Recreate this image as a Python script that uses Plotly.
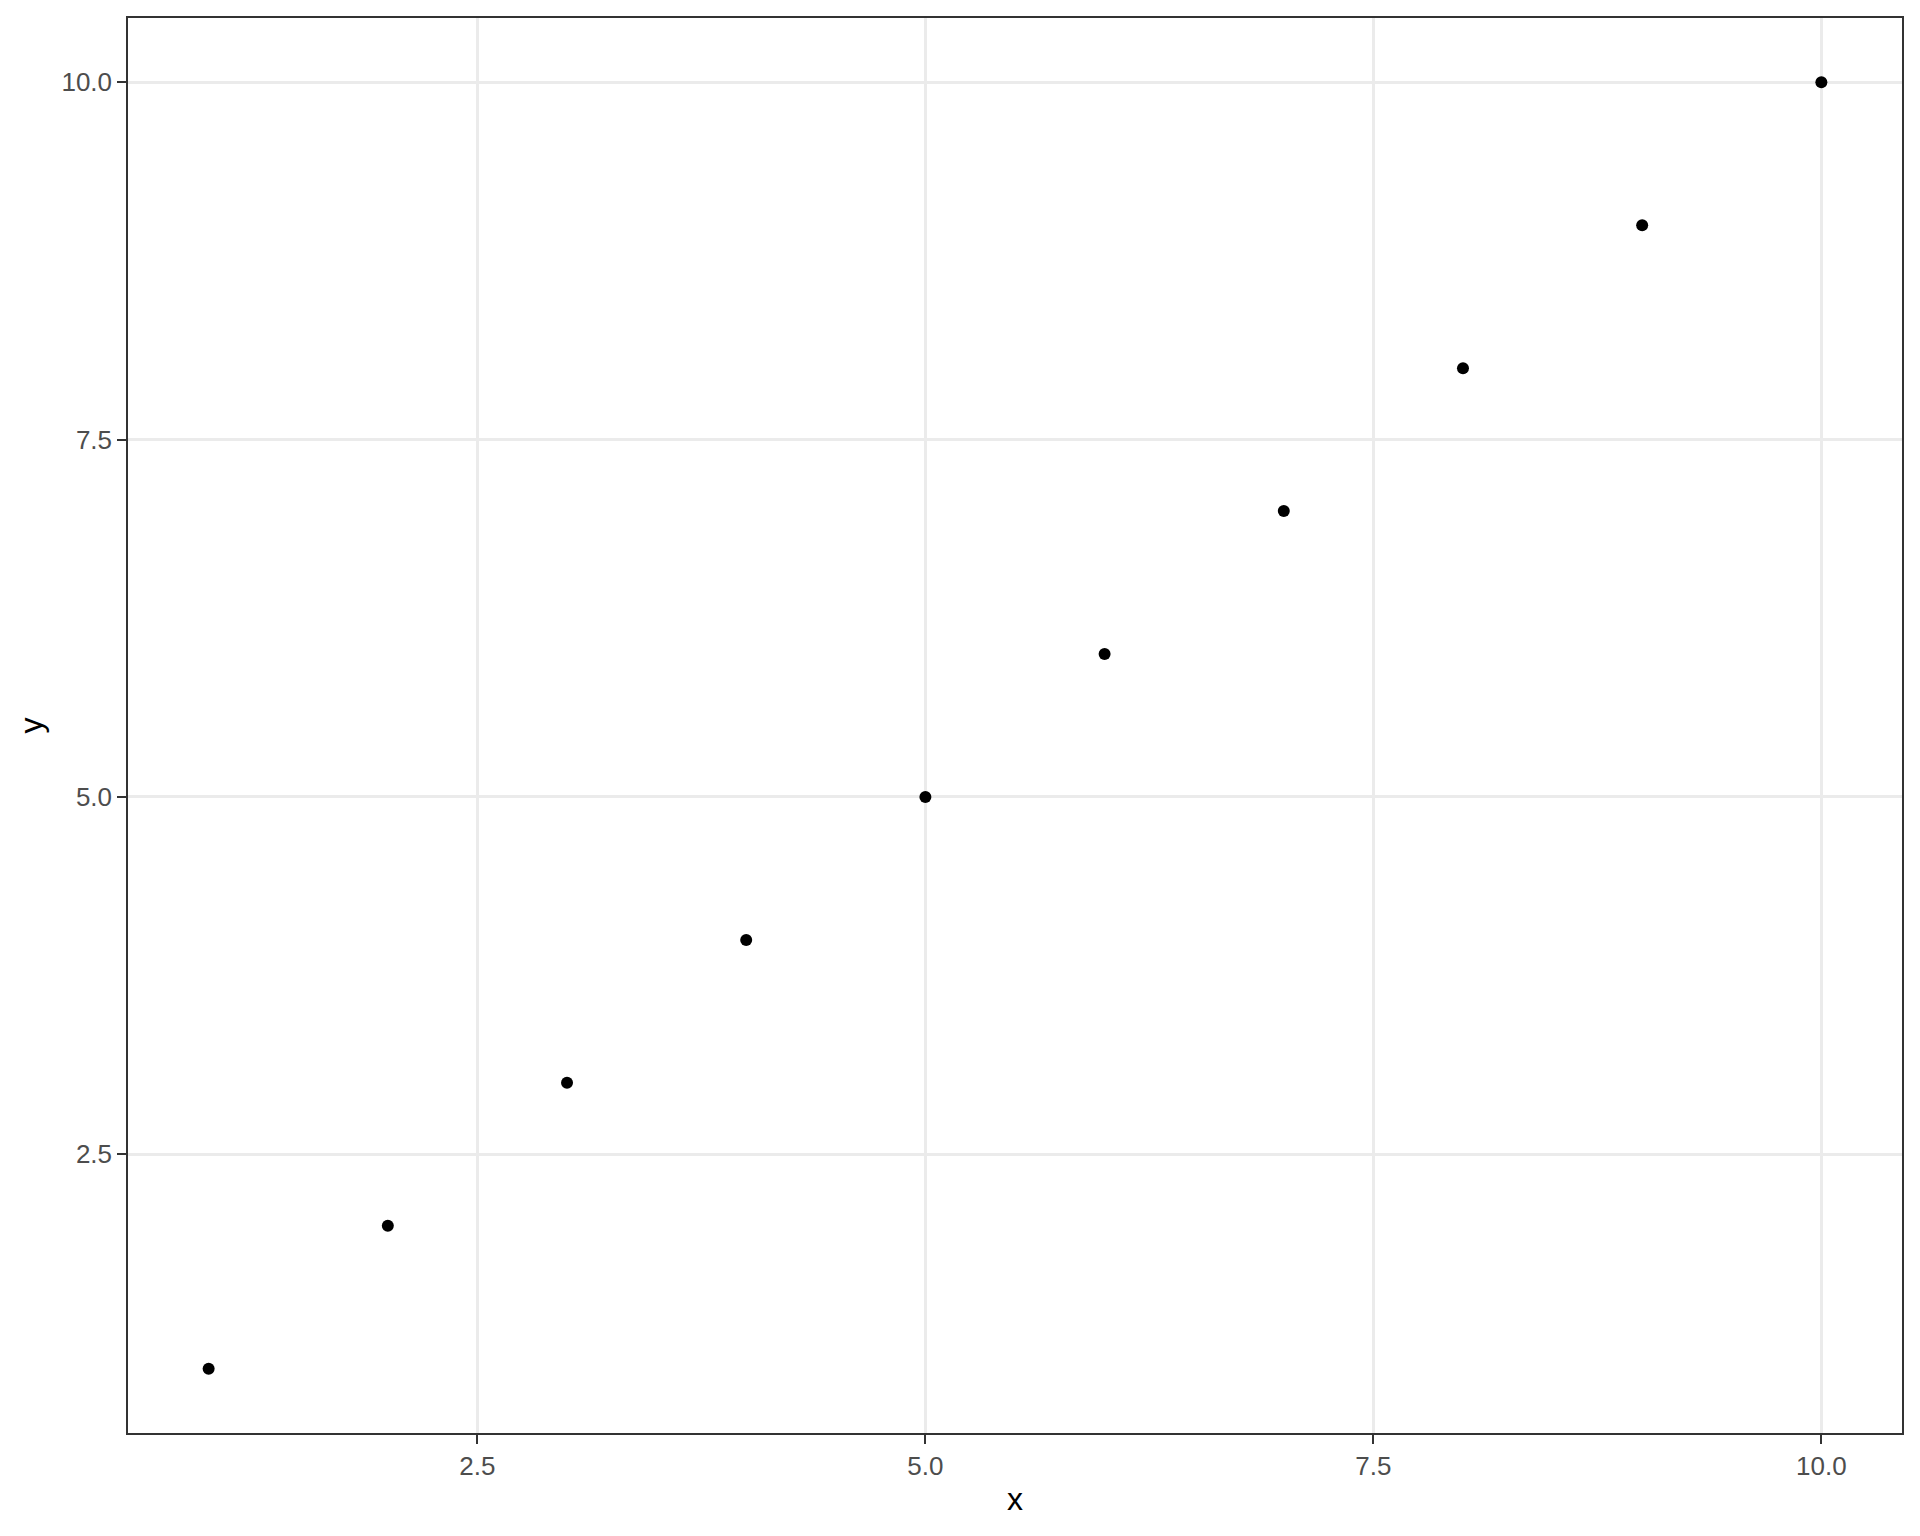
import plotly.graph_objects as go

x_vals = [1, 2, 3, 4, 5, 6, 7, 8, 9, 10]
y_vals = [1, 2, 3, 4, 5, 6, 7, 8, 9, 10]
tick_vals = [2.5, 5.0, 7.5, 10.0]
tick_text = ["2.5", "5.0", "7.5", "10.0"]

fig = go.Figure(go.Scatter(
    x=x_vals, y=y_vals, mode="markers",
    marker=dict(color="black", size=12, line=dict(width=0)),
    showlegend=False, cliponaxis=False))

axis_common = dict(
    range=[0.55, 10.45], tickvals=tick_vals, ticktext=tick_text,
    showgrid=True, gridcolor="#EBEBEB", gridwidth=2.5,
    zeroline=False, showline=True, linecolor="#333333", linewidth=1.5, mirror=True,
    ticks="outside", ticklen=9, tickwidth=2, tickcolor="#333333",
    tickfont=dict(family="Liberation Sans", size=26, color="#4D4D4D"),
    automargin=False,
)

# page body has an 8px default margin; compensate so the panel lands at the reference position
fig.update_layout(
    width=1912, height=1520,
    paper_bgcolor="white", plot_bgcolor="white",
    margin=dict(l=120, r=18, t=10, b=95),
    font=dict(family="Liberation Sans", color="black"),
    xaxis=dict(**axis_common, title=dict(text="x", font=dict(size=32, color="black"), standoff=8)),
    yaxis=dict(**axis_common, title=dict(text="y", font=dict(size=32, color="black"), standoff=9)),
)

fig.write_html("out.html")
